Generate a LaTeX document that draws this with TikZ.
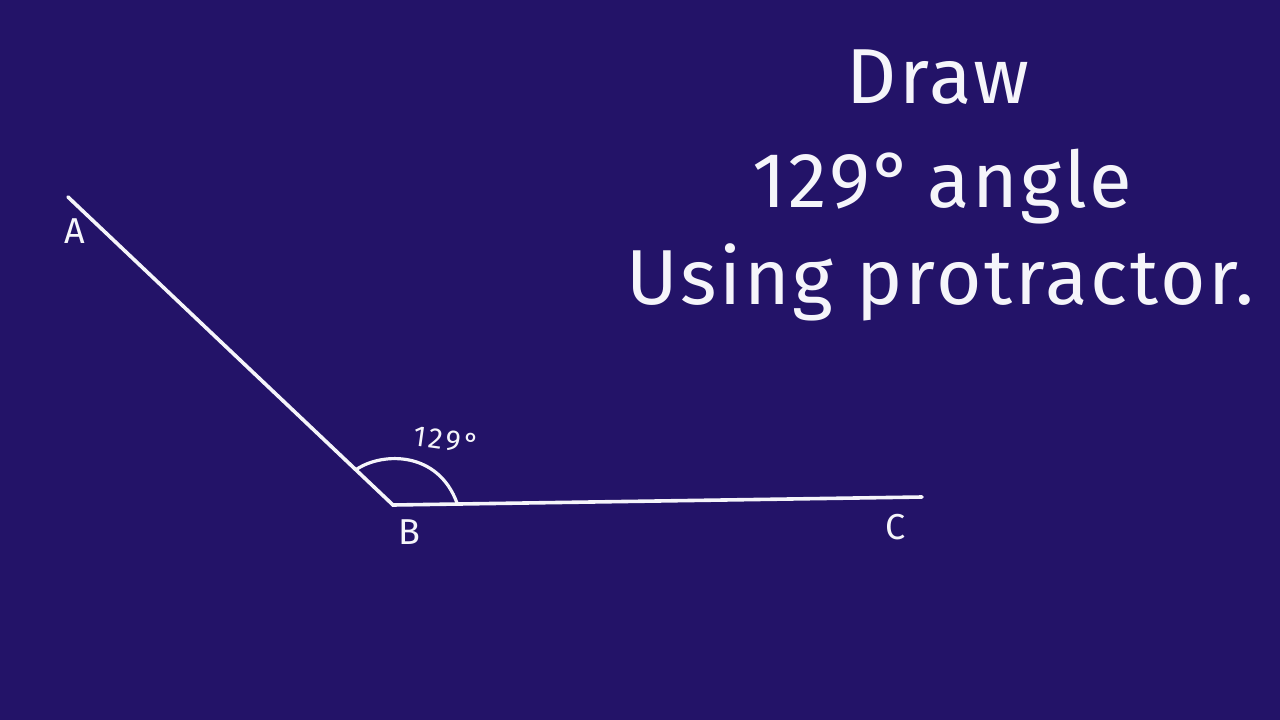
\documentclass[tikz,border=0pt]{standalone}
\usepackage{fontspec}
\setmainfont{Fira Sans}
\newfontfamily\titlefont[LetterSpace=3.5]{Fira Sans}
\newfontfamily\arclabelfont[LetterSpace=10]{Fira Sans}
\definecolor{bgnavy}{RGB}{35,19,104}
\definecolor{chalk}{RGB}{245,245,250}
\tikzset{
  ray/.style={draw=chalk, line width=3.6pt, line cap=round},
  anglearc/.style={draw=chalk, line width=3.2pt, line cap=round},
  ptlabel/.style={text=chalk, font=\fontsize{36}{36}\selectfont, inner sep=0pt},
  title/.style={text=chalk, font=\titlefont\fontsize{78}{78}\selectfont, inner sep=0pt, anchor=base}
}
\begin{document}
\begin{tikzpicture}[x=1pt,y=-1pt]
\useasboundingbox (0,0) rectangle (1280,720);
\fill[bgnavy] (0,0) rectangle (1280,720);
% points
\coordinate (A) at (68,197);
\coordinate (B) at (393,505);
\coordinate (C) at (922,497);
\coordinate (arcL) at (357,469);
\coordinate (arcR) at (457,503);
% rays
\draw[ray] (A) -- (B) -- (C);
% angle arc
\draw[anglearc] (arcL) .. controls (383,452) and (438,451) .. (arcR);
% labels
\node[ptlabel] (lA) at (75,231) {A};
\node[ptlabel] (lB) at (409,532) {B};
\node[ptlabel] (lC) at (896,527) {C};
\node[text=chalk, font=\arclabelfont\fontsize{29}{29}\selectfont, inner sep=0pt, rotate=-8] (deg) at (446,440) {129°};
% title
\node[title] (t1) at (938,103) {Draw};
\node[title] (t2) at (942,207) {129°\kern-10pt{} angle};
\node[title] (t3) at (940,304) {Using protractor.};
\end{tikzpicture}
\end{document}
